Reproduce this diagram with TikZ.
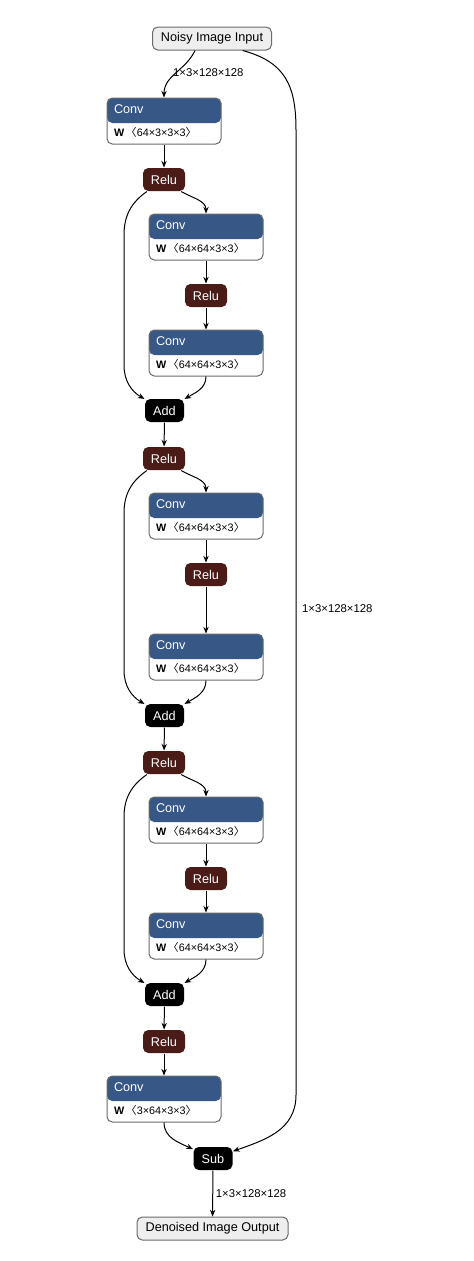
\documentclass[tikz,border=0pt]{standalone}
\usepackage{fontspec}
\setmainfont{Liberation Sans}
\newfontfamily\cjk{Noto Sans CJK SC}
\usetikzlibrary{arrows.meta, positioning, calc}
\definecolor{cblue}{HTML}{375787}
\definecolor{cbrown}{HTML}{4B1C17}
\definecolor{cgrey}{HTML}{6B6B6B}
\definecolor{cio}{HTML}{EEEEEE}
\newcommand{\wdims}[1]{{\fontsize{8.1}{9}\selectfont\textbf{W}\,{\cjk 〈}#1{\cjk 〉}}}
\tikzset{
  every picture/.style={line width=0.75pt},
  io/.style={draw=cgrey, fill=cio, rounded corners=4pt, minimum height=17.25pt, inner xsep=5pt, font=\fontsize{9.5}{11}\selectfont},
  relubox/.style={fill=cbrown, text=white, rounded corners=4pt, minimum width=31.5pt, minimum height=17.25pt, inner sep=0pt, font=\fontsize{9.5}{11}\selectfont},
  opbox/.style={fill=black, text=white, rounded corners=4pt, minimum width=29.25pt, minimum height=17.25pt, inner sep=0pt, font=\fontsize{9.5}{11}\selectfont},
  conv/.style={draw=cgrey, fill=white, rounded corners=4pt, text width=75pt, inner xsep=5.25pt, inner ysep=0pt, minimum height=34.5pt, align=left, font=\fontsize{9.5}{11}\selectfont,
    path picture={\fill[cblue] (path picture bounding box.north west) rectangle ([yshift=-18.75pt]path picture bounding box.north east);}},
  arrow/.style={-{Stealth[length=5pt, width=4pt]}, line width=0.75pt},
  lbl/.style={font=\fontsize{8.5}{10}\selectfont, inner sep=2pt},
}

\begin{document}
\begin{tikzpicture}[x=0.75pt, y=-0.75pt]
  \useasboundingbox[fill=white] (0,0) rectangle (474,1261);
  % input and first conv
  \node[io, minimum width=89.25pt] (in) at (212,38.5) {Noisy Image Input};
  \node[conv] (conv1) at (164,121) {\textcolor{white}{Conv}\\[6pt]\wdims{64×3×3×3}};
  \node[relubox] (relu1) at (164,179.5) {Relu};
  % block 1
  \node[conv] (conv2) at (206,237) {\textcolor{white}{Conv}\\[6pt]\wdims{64×64×3×3}};
  \node[relubox] (relu2) at (206,295.5) {Relu};
  \node[conv] (conv3) at (206,353) {\textcolor{white}{Conv}\\[6pt]\wdims{64×64×3×3}};
  \node[opbox] (add1) at (164.5,410.5) {Add};
  \node[relubox] (relu3) at (164,458.5) {Relu};
  % block 2
  \node[conv] (conv4) at (206,516) {\textcolor{white}{Conv}\\[6pt]\wdims{64×64×3×3}};
  \node[relubox] (relu4) at (206,574.5) {Relu};
  \node[conv] (conv5) at (206,657) {\textcolor{white}{Conv}\\[6pt]\wdims{64×64×3×3}};
  \node[opbox] (add2) at (164.5,715.5) {Add};
  \node[relubox] (relu5) at (164,762.5) {Relu};
  % block 3
  \node[conv] (conv6) at (206,820) {\textcolor{white}{Conv}\\[6pt]\wdims{64×64×3×3}};
  \node[relubox] (relu6) at (206,878.5) {Relu};
  \node[conv] (conv7) at (206,936) {\textcolor{white}{Conv}\\[6pt]\wdims{64×64×3×3}};
  \node[opbox] (add3) at (164.5,994.5) {Add};
  \node[relubox] (relu7) at (164,1041.5) {Relu};
  % output part
  \node[conv] (conv8) at (164,1099) {\textcolor{white}{Conv}\\[6pt]\wdims{3×64×3×3}};
  \node[opbox] (sub) at (213,1158.5) {Sub};
  \node[io, minimum width=113.25pt] (out) at (212.5,1228.5) {Denoised Image Output};
  \node[lbl, anchor=west] (lbin) at (170,73) {1×3×128×128};
  \node[lbl, anchor=west] (lbskip) at (299,609) {1×3×128×128};

  \draw[arrow] ([xshift=-12.75pt]in.south) to[out=-115, in=90] (conv1.north);
  \draw[arrow] ([xshift=23pt]in.south) .. controls (285,62) and (296,85) .. (296,130) -- (296,1095) .. controls (296,1130) and (265,1140) .. (sub.20);
  \draw[arrow] (conv1) -- (relu1);
  \draw[arrow] (relu1.-35) to[out=-30, in=90] (conv2.north);
  \draw[arrow] (conv2) -- (relu2);
  \draw[arrow] (relu2) -- (conv3);
  \draw[arrow] (relu1.-145) to[out=-145, in=90] (124,235) -- (124,365) to[out=-90, in=150] (add1.150);
  \draw[arrow] (conv3.south) to[out=-90, in=30] (add1.30);
  \draw[arrow] (add1) -- (relu3);
  \draw[arrow] (relu3.-35) to[out=-30, in=90] (conv4.north);
  \draw[arrow] (conv4) -- (relu4);
  \draw[arrow] (relu4) -- (conv5);
  \draw[arrow] (relu3.-145) to[out=-145, in=90] (124,513) -- (124,670) to[out=-90, in=150] (add2.150);
  \draw[arrow] (conv5.south) to[out=-90, in=30] (add2.30);
  \draw[arrow] (add2) -- (relu5);
  \draw[arrow] (relu5.-35) to[out=-30, in=90] (conv6.north);
  \draw[arrow] (conv6) -- (relu6);
  \draw[arrow] (relu6) -- (conv7);
  \draw[arrow] (relu5.-145) to[out=-145, in=90] (124,817) -- (124,949) to[out=-90, in=150] (add3.150);
  \draw[arrow] (conv7.south) to[out=-90, in=30] (add3.30);
  \draw[arrow] (add3) -- (relu7);
  \draw[arrow] (relu7) -- (conv8);
  \draw[arrow] (conv8.south) to[out=-90, in=155] (sub.155);
  \draw[arrow] (sub) -- node[lbl, right] (lbout) {1×3×128×128} (out);
\end{tikzpicture}
\end{document}
